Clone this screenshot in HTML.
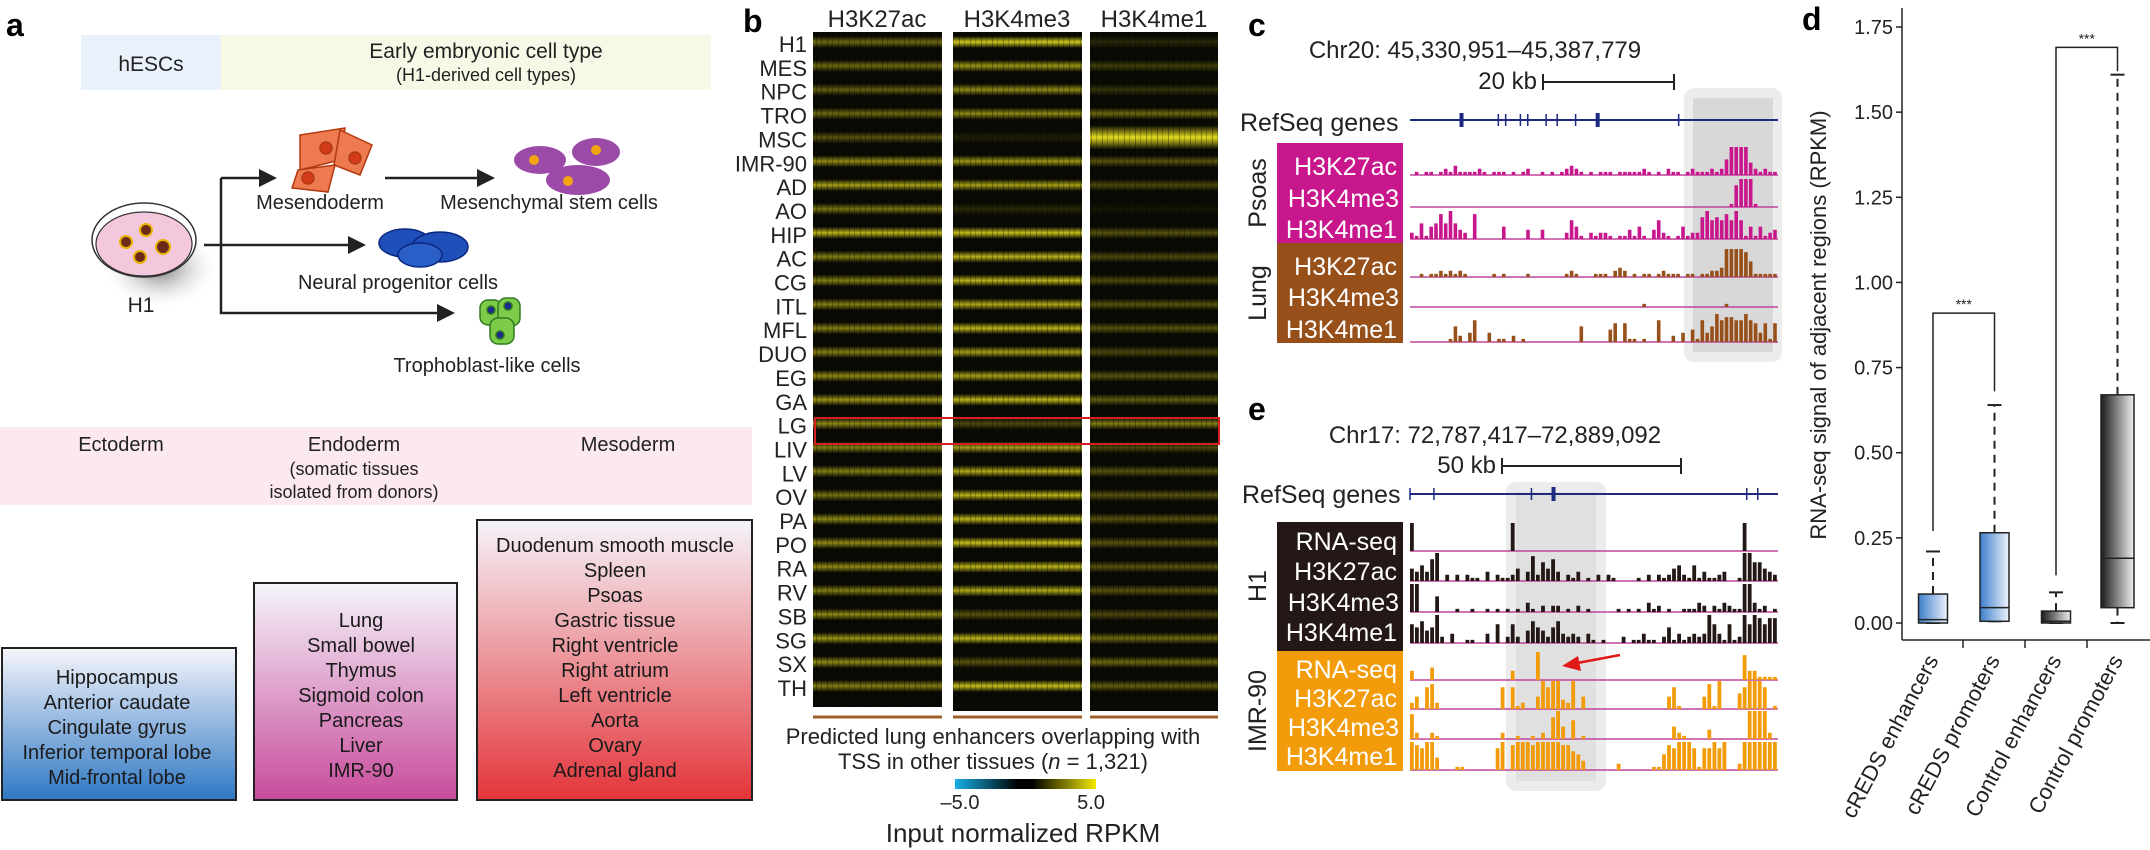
<!DOCTYPE html>
<html><head><meta charset="utf-8">
<style>
html,body{margin:0;padding:0;background:#fff;}
svg{display:block;font-family:"Liberation Sans",sans-serif;}
</style></head>
<body>
<svg id="fig" width="2150" height="850" viewBox="0 0 2150 850" xmlns="http://www.w3.org/2000/svg">
<defs>
  <linearGradient id="gBlue" x1="0" y1="0" x2="0" y2="1"><stop offset="0" stop-color="#f6f6fb"/><stop offset="1" stop-color="#2f78c4"/></linearGradient>
  <linearGradient id="gPurp" x1="0" y1="0" x2="0" y2="1"><stop offset="0" stop-color="#f4f4fa"/><stop offset="1" stop-color="#c84c9c"/></linearGradient>
  <linearGradient id="gRed" x1="0" y1="0" x2="0" y2="1"><stop offset="0" stop-color="#f4f4fa"/><stop offset="1" stop-color="#e3353a"/></linearGradient>
  <linearGradient id="gCbar" x1="0" y1="0" x2="1" y2="0"><stop offset="0" stop-color="#17b0e8"/><stop offset="0.45" stop-color="#000"/><stop offset="0.55" stop-color="#000"/><stop offset="1" stop-color="#f2ea00"/></linearGradient>
  <linearGradient id="gBoxB" x1="0" y1="0" x2="1" y2="0"><stop offset="0" stop-color="#3d7fcc"/><stop offset="1" stop-color="#eef3fb"/></linearGradient>
  <linearGradient id="gBoxK" x1="0" y1="0" x2="1" y2="0"><stop offset="0" stop-color="#1a1a1a"/><stop offset="1" stop-color="#f0f0f0"/></linearGradient>
  <radialGradient id="gShadow"><stop offset="0" stop-color="#777"/><stop offset="1" stop-color="#fff" stop-opacity="0"/></radialGradient>
  <linearGradient id="gBand" x1="0" y1="0" x2="0" y2="1"><stop offset="0" stop-color="#f0e620" stop-opacity="0"/><stop offset="0.5" stop-color="#f0e620"/><stop offset="1" stop-color="#f0e620" stop-opacity="0"/></linearGradient>
  <pattern id="streaks" width="11" height="30" patternUnits="userSpaceOnUse">
    <rect x="2" y="0" width="1" height="30" fill="#000" opacity="0.3"/>
    <rect x="7" y="0" width="1" height="30" fill="#000" opacity="0.2"/>
  </pattern>
</defs>

<!-- ============ Panel a ============ -->
<g>
  <text x="6" y="36" font-size="32" font-weight="bold">a</text>
  <rect x="81" y="35" width="140" height="55" fill="#e9f1fa"/>
  <rect x="221" y="35" width="490" height="55" fill="#f8f8e6"/>
  <text x="151" y="71" font-size="21" text-anchor="middle" fill="#222">hESCs</text>
  <text x="486" y="58" font-size="21" text-anchor="middle" fill="#222">Early embryonic cell type</text>
  <text x="486" y="81" font-size="18" text-anchor="middle" fill="#222">(H1-derived cell types)</text>

  <ellipse cx="160" cy="268" rx="60" ry="42" fill="url(#gShadow)"/>
  <ellipse cx="144" cy="240" rx="52" ry="37" fill="#fff" stroke="#333" stroke-width="1.5"/>
  <ellipse cx="144" cy="244" rx="48" ry="32" fill="#f3c7dc" stroke="#333" stroke-width="1.2"/>
  <g fill="#6b2a1a" stroke="#e8b400" stroke-width="2">
    <circle cx="146" cy="230" r="6"/><circle cx="126" cy="242" r="6"/><circle cx="163" cy="247" r="7"/><circle cx="140" cy="257" r="6"/>
  </g>
  <text x="141" y="312" font-size="21" text-anchor="middle" fill="#222">H1</text>

  <g stroke="#222" stroke-width="2.5" fill="none">
    <polyline points="221,178 221,313 445,313"/>
    <line x1="221" y1="178" x2="265" y2="178"/>
    <line x1="204" y1="245" x2="355" y2="245"/>
    <line x1="385" y1="178" x2="485" y2="178"/>
  </g>
  <g fill="#222">
    <polygon points="277,178 259,169 259,187"/>
    <polygon points="366,245 348,236 348,254"/>
    <polygon points="455,313 437,304 437,322"/>
    <polygon points="495,178 477,169 477,187"/>
  </g>
  <g stroke="#b23a10" stroke-width="1.5">
    <polygon points="300,135 345,128 340,160 300,170" fill="#ee7a50"/>
    <polygon points="340,130 372,145 360,175 334,165" fill="#ee7a50"/>
    <polygon points="298,170 335,165 328,192 292,188" fill="#ee7a50"/>
    <circle cx="326" cy="148" r="6" fill="#d33b1a"/><circle cx="355" cy="158" r="6" fill="#d33b1a"/><circle cx="308" cy="178" r="6" fill="#d33b1a"/>
  </g>
  <g fill="#9b4aa8">
    <ellipse cx="540" cy="160" rx="26" ry="14"/><ellipse cx="596" cy="152" rx="24" ry="14"/><ellipse cx="578" cy="180" rx="32" ry="15"/>
    <circle cx="534" cy="160" r="5" fill="#f2a40e"/><circle cx="596" cy="150" r="5" fill="#f2a40e"/><circle cx="568" cy="181" r="5" fill="#f2a40e"/>
  </g>
  <g stroke="#0a2880" stroke-width="1.5">
    <ellipse cx="405" cy="243" rx="26" ry="14" fill="#1f4fb8"/><ellipse cx="440" cy="247" rx="28" ry="15" fill="#1f4fb8"/><ellipse cx="420" cy="255" rx="22" ry="12" fill="#2a5fc8"/>
  </g>
  <g stroke="#2f7a20" stroke-width="1.5" fill="#7ccc4a">
    <rect x="480" y="300" width="22" height="25" rx="8"/><rect x="498" y="298" width="22" height="28" rx="8"/><rect x="490" y="318" width="24" height="26" rx="8"/>
    <circle cx="491" cy="310" r="4" fill="#1b2b8c"/><circle cx="508" cy="306" r="4" fill="#1b2b8c"/><circle cx="500" cy="335" r="4" fill="#1b2b8c"/>
  </g>
  <text x="320" y="209" font-size="20" text-anchor="middle" fill="#222">Mesendoderm</text>
  <text x="549" y="209" font-size="20" text-anchor="middle" fill="#222">Mesenchymal stem cells</text>
  <text x="398" y="289" font-size="20" text-anchor="middle" fill="#222">Neural progenitor cells</text>
  <text x="487" y="372" font-size="20" text-anchor="middle" fill="#222">Trophoblast-like cells</text>

  <rect x="0" y="427" width="752" height="78" fill="#fbe9ef"/>
  <text x="121" y="451" font-size="20" text-anchor="middle" fill="#222">Ectoderm</text>
  <text x="354" y="451" font-size="20" text-anchor="middle" fill="#222">Endoderm</text>
  <text x="354" y="475" font-size="18" text-anchor="middle" fill="#222">(somatic tissues</text>
  <text x="354" y="498" font-size="18" text-anchor="middle" fill="#222">isolated from donors)</text>
  <text x="628" y="451" font-size="20" text-anchor="middle" fill="#222">Mesoderm</text>

  <rect x="2" y="648" width="234" height="152" fill="url(#gBlue)" stroke="#222" stroke-width="2"/>
  <rect x="254" y="583" width="203" height="217" fill="url(#gPurp)" stroke="#222" stroke-width="2"/>
  <rect x="477" y="520" width="275" height="280" fill="url(#gRed)" stroke="#222" stroke-width="2"/>
  <g font-size="20" text-anchor="middle" fill="#1a1a1a">
    <text x="117" y="684">Hippocampus</text><text x="117" y="709">Anterior caudate</text><text x="117" y="734">Cingulate gyrus</text><text x="117" y="759">Inferior temporal lobe</text><text x="117" y="784">Mid-frontal lobe</text>
  </g>
  <g font-size="20" text-anchor="middle" fill="#1a1a1a">
    <text x="361" y="627">Lung</text><text x="361" y="652">Small bowel</text><text x="361" y="677">Thymus</text><text x="361" y="702">Sigmoid colon</text><text x="361" y="727">Pancreas</text><text x="361" y="752">Liver</text><text x="361" y="777">IMR-90</text>
  </g>
  <g font-size="20" text-anchor="middle" fill="#1a1a1a">
    <text x="615" y="552">Duodenum smooth muscle</text><text x="615" y="577">Spleen</text><text x="615" y="602">Psoas</text><text x="615" y="627">Gastric tissue</text><text x="615" y="652">Right ventricle</text><text x="615" y="677">Right atrium</text><text x="615" y="702">Left ventricle</text><text x="615" y="727">Aorta</text><text x="615" y="752">Ovary</text><text x="615" y="777">Adrenal gland</text>
  </g>
</g>

<!-- ============ Panel b ============ -->
<g id="panelB">
  <text x="743" y="32" font-size="32" font-weight="bold">b</text>
  <text x="877" y="27" font-size="24" text-anchor="middle" fill="#222">H3K27ac</text>
  <text x="1017" y="27" font-size="24" text-anchor="middle" fill="#222">H3K4me3</text>
  <text x="1154" y="27" font-size="24" text-anchor="middle" fill="#222">H3K4me1</text>
  <g id="hm"></g>
  <rect x="815" y="418" width="404" height="26" fill="none" stroke="#d42020" stroke-width="2"/>
  <g stroke="#a0602a" stroke-width="3">
    <line x1="813" y1="717" x2="942" y2="717"/><line x1="953" y1="717" x2="1082" y2="717"/><line x1="1090" y1="717" x2="1218" y2="717"/>
  </g>
  <text x="993" y="744" font-size="22" text-anchor="middle" fill="#222">Predicted lung enhancers overlapping with</text>
  <text x="993" y="769" font-size="22" text-anchor="middle" fill="#222">TSS in other tissues  (<tspan font-style="italic">n</tspan> = 1,321)</text>
  <rect x="955" y="779" width="141" height="10" fill="url(#gCbar)"/>
  <text x="960" y="809" font-size="20" text-anchor="middle" fill="#222">–5.0</text>
  <text x="1091" y="809" font-size="20" text-anchor="middle" fill="#222">5.0</text>
  <text x="1023" y="842" font-size="26" text-anchor="middle" fill="#222">Input normalized RPKM</text>
</g>

<!-- ============ Panel c ============ -->
<g>
  <text x="1248" y="36" font-size="32" font-weight="bold">c</text>
  <text x="1475" y="58" font-size="24" text-anchor="middle" fill="#222">Chr20: 45,330,951–45,387,779</text>
  <text x="1537" y="89" font-size="24" text-anchor="end" fill="#222">20 kb</text>
  <g stroke="#222" stroke-width="2"><line x1="1543" y1="82" x2="1674" y2="82"/><line x1="1543" y1="74" x2="1543" y2="90"/><line x1="1674" y1="74" x2="1674" y2="90"/></g>
  <rect x="1684" y="88" width="98" height="274" rx="10" fill="#ececec"/>
  <rect x="1693" y="98" width="80" height="254" fill="#d8d8d8"/>
  <text x="1240" y="131" font-size="25" fill="#222">RefSeq genes</text>
  <g id="genesC"></g>
  <rect x="1277" y="143" width="126" height="100" fill="#c8168c"/>
  <rect x="1277" y="243" width="126" height="100" fill="#98501a"/>
  <g font-size="25" fill="#fff" text-anchor="end">
    <text x="1397" y="175">H3K27ac</text><text x="1399" y="207">H3K4me3</text><text x="1397" y="238">H3K4me1</text>
    <text x="1397" y="275">H3K27ac</text><text x="1399" y="306">H3K4me3</text><text x="1397" y="338">H3K4me1</text>
  </g>
  <text transform="translate(1266,193) rotate(-90)" font-size="25" text-anchor="middle" fill="#222">Psoas</text>
  <text transform="translate(1266,293) rotate(-90)" font-size="25" text-anchor="middle" fill="#222">Lung</text>
  <g id="tracksC"></g>
</g>

<!-- ============ Panel e ============ -->
<g>
  <text x="1248" y="420" font-size="32" font-weight="bold">e</text>
  <text x="1495" y="443" font-size="24" text-anchor="middle" fill="#222">Chr17: 72,787,417–72,889,092</text>
  <text x="1496" y="473" font-size="24" text-anchor="end" fill="#222">50 kb</text>
  <g stroke="#222" stroke-width="2"><line x1="1502" y1="466" x2="1681" y2="466"/><line x1="1502" y1="458" x2="1502" y2="474"/><line x1="1681" y1="458" x2="1681" y2="474"/></g>
  <rect x="1506" y="482" width="100" height="309" rx="10" fill="#ececec"/>
  <rect x="1516" y="492" width="80" height="289" fill="#e0e0e0"/>
  <text x="1242" y="503" font-size="25" fill="#222">RefSeq genes</text>
  <g id="genesE"></g>
  <rect x="1277" y="522" width="126" height="129" fill="#231815"/>
  <rect x="1277" y="651" width="126" height="120" fill="#f29c0c"/>
  <g font-size="25" fill="#fff" text-anchor="end">
    <text x="1397" y="550">RNA-seq</text><text x="1397" y="580">H3K27ac</text><text x="1399" y="611">H3K4me3</text><text x="1397" y="641">H3K4me1</text>
    <text x="1397" y="678">RNA-seq</text><text x="1397" y="707">H3K27ac</text><text x="1399" y="736">H3K4me3</text><text x="1397" y="765">H3K4me1</text>
  </g>
  <text transform="translate(1266,586) rotate(-90)" font-size="25" text-anchor="middle" fill="#222">H1</text>
  <text transform="translate(1266,711) rotate(-90)" font-size="25" text-anchor="middle" fill="#222">IMR-90</text>
  <g id="tracksE"></g>
  <g>
    <line x1="1620" y1="655" x2="1572" y2="664" stroke="#e01818" stroke-width="2.5"/>
    <polygon points="1562,666 1578,656 1581,671" fill="#e01818"/>
  </g>
</g>

<!-- ============ Panel d ============ -->
<g id="panelD">
  <text x="1802" y="30" font-size="32" font-weight="bold">d</text>
  <text transform="translate(1826,325) rotate(-90)" font-size="22" text-anchor="middle" fill="#222">RNA-seq signal of adjacent regions (RPKM)</text>
  <g id="dplot"></g>
</g>
</svg>

<script>
const NS = 'http://www.w3.org/2000/svg';
function mk(tag, attrs, parent){const e=document.createElementNS(NS,tag);for(const k in attrs)e.setAttribute(k,attrs[k]);if(parent)parent.appendChild(e);return e;}

/* ---------- Heatmap (panel b) ---------- */
const hmRows = ['H1','MES','NPC','TRO','MSC','IMR-90','AD','AO','HIP','AC','CG','ITL','MFL','DUO','EG','GA','LG','LIV','LV','OV','PA','PO','RA','RV','SB','SG','SX','TH'];
const hmMarks = ['H3K27ac','H3K4me3','H3K4me1'];
const hmK27ac = [0.45,0.45,0.4,0.45,0.35,0.6,0.7,0.5,0.8,0.55,0.55,0.55,0.55,0.55,0.6,0.65,0.6,0.55,0.55,0.5,0.6,0.6,0.6,0.55,0.6,0.65,0.6,0.55];
const hmK4me3 = [0.9,0.65,0.6,0.6,0.1,0.65,0.7,0.15,0.85,0.8,0.8,0.75,0.8,0.7,0.7,0.8,0.3,0.7,0.75,0.8,0.8,0.85,0.8,0.75,0.35,0.8,0.35,0.85];
const hmK4me1 = [0.15,0.25,0.2,0.45,1.0,0.35,0.3,0.05,0.35,0.3,0.3,0.35,0.35,0.3,0.35,0.4,0.55,0.3,0.35,0.35,0.35,0.35,0.35,0.35,0.3,0.45,0.45,0.4];
const hmVals = [hmK27ac, hmK4me3, hmK4me1];
const hmCols = [{x:813,w:129,b:707},{x:953,w:129,b:711},{x:1090,w:128,b:711}];
(function(){
  const g=document.getElementById('hm');
  const top=32, rowY0=44, step=23.85;
  hmCols.forEach((c,ci)=>{
    const bg=mk('rect',{x:c.x,y:top,width:c.w,height:c.b-top,fill:'#0a0a04'},g);
    
    
    hmRows.forEach((r,ri)=>{
      const v=hmVals[ci][ri];
      const cy=rowY0+ri*step-2;
      const h= (ci===2 && v>0.9) ? 24 : 12;
      const band=mk('rect',{x:c.x,y:cy-h/2,width:c.w,height:h,fill:'url(#gBand)',opacity:Math.min(1,v*0.95)},g);
      
      
    });
    mk('rect',{x:c.x,y:top,width:c.w,height:c.b-top,fill:'url(#streaks)'},g);
  });
  hmRows.forEach((r,ri)=>{
    const t=mk('text',{x:807,y:rowY0+ri*step+8,'font-size':22,'text-anchor':'end',fill:'#222'},g);
    t.textContent=r;
    
    
  });
})();

/* ---------- Genome tracks (panels c & e) ---------- */
const trackX0=1410, trackX1=1778;
const cTrackNames=['psoas-h3k27ac','psoas-h3k4me3','psoas-h3k4me1','lung-h3k27ac','lung-h3k4me3','lung-h3k4me1'];
const cBase=[175,207,239,277,307,342];
const cColor=['#c8168c','#c8168c','#c8168c','#98501a','#98501a','#98501a'];
const cSignals=[
 "0101101213111121011101012001010123210101110111112101021101211121259999421211",
 "0000000000000000000000000000000000000000000000000000000000000000001799910000",
 "2151458595320800000400003003000026410212210113141036210141227967686961414123",
 "0010112121210000010100001000000012100011102320101101211101101122399998511111",
 "0000000000000000000000000000000000000000000000001000000000000000010000000000",
 "0000000015203700301102010000000000050000046061101007002030417359788779763616"
];
const eTrackNames=['h1-rna-seq','h1-h3k27ac','h1-h3k4me3','h1-h3k4me1','imr90-rna-seq','imr90-h3k27ac','imr90-h3k4me3','imr90-h3k4me1'];
const eBase=[551,581,612,643,680,709,739,770];
const eColor=['#231815','#231815','#231815','#231815','#f29c0c','#f29c0c','#f29c0c','#f29c0c'];
const eSignals=[
 "9000000000000000000090000000000000000000000000000000000000000000009000000",
 "4353790202021103021124038264730213010202100001020212452151311230019966432",
 "9900050001001001010101031020220102010000010101031201001113202132119931201",
 "6574592030011003060262047542573232031010002011311025131232396316129698688",
 "3000400000000000000030000900000000000000000000000000000000000000008331111",
 "2407820000000000007071200497993290400000000000000004710000481900057999701",
 "8200210000000000002001001020794060100000000000000000421000030000000999920",
 "9879940001100000079089998999998865300000020000001158799971779790029999999"
];
function drawTracks(gid, names, bases, colors, signals, h, prefix){
  const g=document.getElementById(gid);
  signals.forEach((s,ti)=>{
    const tg=mk('g',{},g);
    
    
    mk('line',{x1:trackX0,y1:bases[ti],x2:trackX1,y2:bases[ti],stroke:'#c0449c','stroke-width':1.5},tg);
    const bw=(trackX1-trackX0)/s.length;
    let d='';
    for(let i=0;i<s.length;i++){
      const v=+s[i]; if(!v) continue;
      const hh=v/9*h;
      const x=trackX0+i*bw;
      d+='M'+x.toFixed(1)+' '+bases[ti]+'h'+(bw*0.75).toFixed(1)+'v'+(-hh).toFixed(1)+'h'+(-bw*0.75).toFixed(1)+'z';
    }
    if(d) mk('path',{d:d,fill:colors[ti]},tg);
  });
}
drawTracks('tracksC',cTrackNames,cBase,cColor,cSignals,28,'track-c-');
drawTracks('tracksE',eTrackNames,eBase,eColor,eSignals,28,'track-e-');

const cExons=[0.14,0.24,0.26,0.30,0.32,0.37,0.40,0.45,0.51,0.73];
const eExons=[0.0,0.065,0.33,0.39,0.915,0.945];
function drawGenes(gid,y,exons,thick){
  const g=document.getElementById(gid);
  mk('line',{x1:trackX0,y1:y,x2:trackX1,y2:y,stroke:'#1c2a80','stroke-width':2},g);
  exons.forEach((f,i)=>{
    const x=trackX0+f*(trackX1-trackX0);
    const tk=thick.includes(i);
    const w=tk?4:1.5;
    mk('rect',{x:x-w/2,y:y-(tk?7:6),width:w,height:tk?14:12,fill:'#1c2a80'},g);
  });
}
drawGenes('genesC',120,cExons,[0,8]);
drawGenes('genesE',494,eExons,[3]);

/* ---------- Box plot (panel d) ---------- */
const dCats=['cREDS enhancers','cREDS promoters','Control enhancers','Control promoters'];
const dLow=[0,0.005,0,0];
const dQ1=[0,0.005,0,0.045];
const dMed=[0.01,0.045,0.005,0.19];
const dQ3=[0.085,0.265,0.035,0.67];
const dHigh=[0.21,0.64,0.09,1.61];
const dTicks=[0,0.25,0.5,0.75,1.0,1.25,1.5,1.75];
const dTickLabels=['0.00','0.25','0.50','0.75','1.00','1.25','1.50','1.75'];
const dSig=[{a:0,b:1,y:0.91,ya:0.27,yb:0.68,label:'***'},{a:2,b:3,y:1.69,ya:0.14,yb:1.62,label:'***'}];
(function(){
  const g=document.getElementById('dplot');
  const Y=v=>623-v*(596/1.75);
  const X=i=>1933+i*61.5;
  const ax=mk('g',{},g);
  
  
  mk('line',{x1:1902,y1:8,x2:1902,y2:640,stroke:'#222','stroke-width':1.5},ax);
  mk('line',{x1:1902,y1:640,x2:2150,y2:640,stroke:'#222','stroke-width':1.5},ax);
  dTicks.forEach((t,i)=>{
    mk('line',{x1:1896,y1:Y(t),x2:1902,y2:Y(t),stroke:'#222','stroke-width':1.5},ax);
    const tx=mk('text',{x:1893,y:Y(t)+7,'font-size':20,'text-anchor':'end',fill:'#222'},ax);
    tx.textContent=dTickLabels[i];
    
    
  });
  [1963,2025,2087].forEach(x=>mk('line',{x1:x,y1:640,x2:x,y2:648,stroke:'#222','stroke-width':1.5},ax));
  dCats.forEach((c,i)=>{
    const bg=mk('g',{},g);
    
    
    const x=X(i), w=(i===3)?33:29;
    mk('line',{x1:x,y1:Y(dQ3[i]),x2:x,y2:Y(dHigh[i]),stroke:'#222','stroke-width':2,'stroke-dasharray':'8,6'},bg);
    mk('line',{x1:x,y1:Y(dQ1[i]),x2:x,y2:Y(dLow[i]),stroke:'#222','stroke-width':2,'stroke-dasharray':'8,6'},bg);
    mk('line',{x1:x-7,y1:Y(dHigh[i]),x2:x+7,y2:Y(dHigh[i]),stroke:'#222','stroke-width':2},bg);
    mk('line',{x1:x-7,y1:Y(dLow[i]),x2:x+7,y2:Y(dLow[i]),stroke:'#222','stroke-width':2},bg);
    mk('rect',{x:x-w/2,y:Y(dQ3[i]),width:w,height:Math.max(1,Y(dQ1[i])-Y(dQ3[i])),fill:(i<2)?'url(#gBoxB)':'url(#gBoxK)',stroke:'#222','stroke-width':1.5},bg);
    mk('line',{x1:x-w/2,y1:Y(dMed[i]),x2:x+w/2,y2:Y(dMed[i]),stroke:'#222','stroke-width':1.5},bg);
    const lbl=mk('text',{transform:'translate('+(x+6)+',660) rotate(-62)','font-size':22,'text-anchor':'end',fill:'#222'},g);
    lbl.textContent=c;
    
    
  });
  dSig.forEach(s=>{
    const sg=mk('g',{},g);
    
    
    mk('polyline',{points:X(s.a)+','+Y(s.ya)+' '+X(s.a)+','+Y(s.y)+' '+X(s.b)+','+Y(s.y)+' '+X(s.b)+','+Y(s.yb),fill:'none',stroke:'#222','stroke-width':1.5},sg);
    const t=mk('text',{x:(X(s.a)+X(s.b))/2,y:Y(s.y)-4,'font-size':14,'text-anchor':'middle',fill:'#222'},sg);
    t.textContent=s.label;
  });
})();
</script>
</body></html>
